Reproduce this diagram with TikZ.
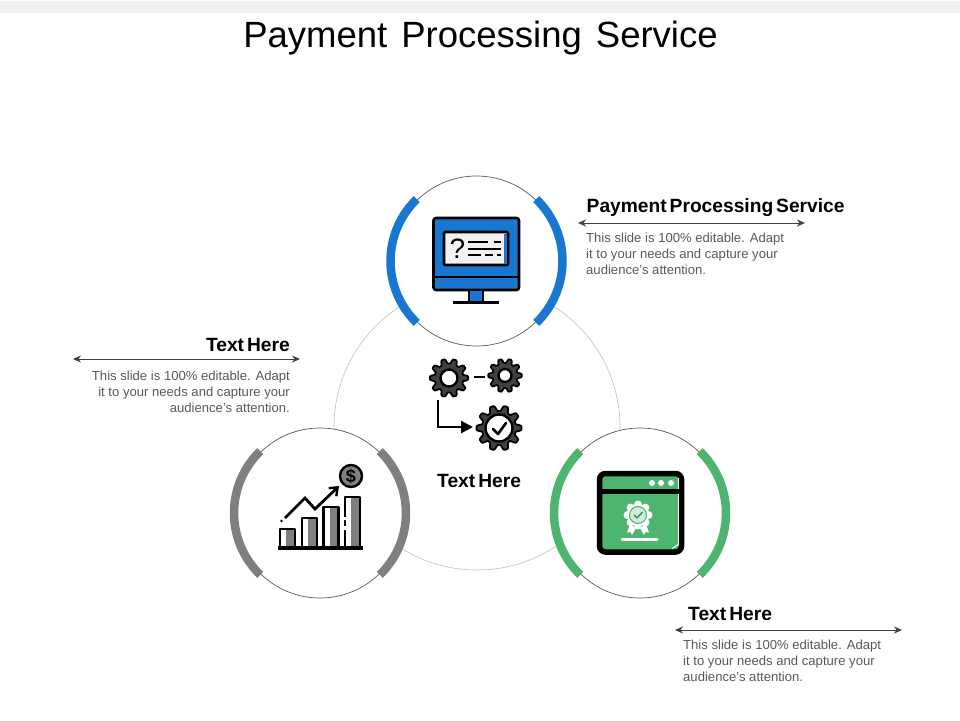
\documentclass[tikz,border=0pt]{standalone}
\usepackage{fontspec}
\setmainfont{Liberation Sans}
\usetikzlibrary{arrows.meta}
\definecolor{cblue}{HTML}{1877D0}
\definecolor{cgray}{HTML}{7F7F7F}
\definecolor{cgreen}{HTML}{4DB56F}
\definecolor{cband}{HTML}{F2F2F2}
\definecolor{cgear}{HTML}{404040}
\definecolor{ctext}{HTML}{595959}
\newcommand{\wordgap}[1]{\spaceskip=#1\relax}
\tikzset{
  ring/.style={circle,draw=black!65,line width=0.7pt,fill=white,minimum size=170pt,inner sep=0pt},
  hub/.style={circle,draw=black!25,line width=0.6pt,minimum size=286pt,inner sep=0pt},
  band/.style={line width=8.5pt,line cap=butt},
  span/.style={draw=black!75,line width=1pt,{Stealth[length=8pt,width=7pt]}-{Stealth[length=8pt,width=7pt]}},
  headleft/.style={anchor=west,inner sep=0pt,font=\fontsize{19.2pt}{22pt}\selectfont\bfseries},
  headright/.style={anchor=east,inner sep=0pt,font=\fontsize{19.2pt}{22pt}\selectfont\bfseries},
  bodyleft/.style={anchor=west,inner sep=0pt,align=left,text=ctext,font=\fontsize{13.1pt}{16pt}\selectfont},
  bodyright/.style={anchor=east,inner sep=0pt,align=right,text=ctext,font=\fontsize{13.1pt}{16pt}\selectfont},
  ink/.style={draw=black,line width=2.6pt,line cap=round,line join=round},
  thin ink/.style={draw=black,line width=2.2pt,line cap=butt},
}
\newcommand{\gearshape}[4]{%
  \filldraw[draw=black,fill=cgear,line width=1.8pt,line join=round]
    plot[variable=\t,samples=181,domain=0:360]
    ({#1+#3*(0.86+0.12*max(-1,min(1,1.6*cos(10*\t))))*cos(\t)},
     {#2+#3*(0.86+0.12*max(-1,min(1,1.6*cos(10*\t))))*sin(\t)}) -- cycle;
  \filldraw[draw=black,fill=white,line width=2.4pt] (#1,#2) circle[radius=#4];
}
\begin{document}
\begin{tikzpicture}[x=1pt,y=-1pt]
\useasboundingbox (0,0) rectangle (960,720);
\fill[cband] (0,1) rectangle (960,13);

\node[inner sep=0pt,font=\fontsize{36.5pt}{40pt}\selectfont] (title) at (480.5,38) {\wordgap{14pt}Payment Processing Service};

% circles
\node[hub] (hubc) at (477,427) {};
\node[ring] (top) at (476.5,261) {};
\node[ring] (left) at (320,513) {};
\node[ring] (right) at (640,513) {};

% coloured arcs
\draw[band,cblue] ([shift={(134:86)}]top.center) arc[start angle=134,end angle=226,radius=86];
\draw[band,cblue] ([shift={(-46:86)}]top.center) arc[start angle=-46,end angle=46,radius=86];
\draw[band,cgray] ([shift={(134:86)}]left.center) arc[start angle=134,end angle=226,radius=86];
\draw[band,cgray] ([shift={(-46:86)}]left.center) arc[start angle=-46,end angle=46,radius=86];
\draw[band,cgreen] ([shift={(134:86)}]right.center) arc[start angle=134,end angle=226,radius=86];
\draw[band,cgreen] ([shift={(-46:86)}]right.center) arc[start angle=-46,end angle=46,radius=86];

% text blocks
\node[headleft] (h1) at (586.5,208) {\wordgap{3pt}Payment Processing Service};
\coordinate (a1) at (578,223); \coordinate (b1) at (805,223);
\draw[span] (a1) -- (b1);
\node[bodyleft] (t1) at (586,254) {This slide is 100\% editable. Adapt\\it to your needs and capture your\\audience's attention.};

\node[headright] (h2) at (290,344.5) {\wordgap{3pt}Text Here};
\coordinate (a2) at (73,359); \coordinate (b2) at (300,359);
\draw[span] (a2) -- (b2);
\node[bodyright] (t2) at (290,392) {This slide is 100\% editable. Adapt\\it to your needs and capture your\\audience's attention.};

\node[headleft] (h3) at (688,613.5) {\wordgap{3pt}Text Here};
\coordinate (a3) at (675,630); \coordinate (b3) at (902,630);
\draw[span] (a3) -- (b3);
\node[bodyleft] (t3) at (683,661) {This slide is 100\% editable. Adapt\\it to your needs and capture your\\audience's attention.};

\node[headleft] (h4) at (437,480.5) {\wordgap{3pt}Text Here};

% monitor icon
\filldraw[ink,fill=cblue,rounded corners=2.5pt] (433.5,218) rectangle (519,290);
\draw[ink] (433.5,277) -- (519,277);
\filldraw[ink,fill=cband,rounded corners=1pt] (444,232) rectangle (508,265);
\fill[cblue] (504,233.5) rectangle (506.7,263.7);
\filldraw[draw=black,line width=2pt,fill=cblue] (469,290) rectangle (483,302);
\draw[ink,line cap=butt] (453,302.5) -- (499,302.5);
\node[inner sep=0pt,font=\fontsize{28pt}{30pt}\selectfont] (qm) at (457.5,248.5) {?};
\draw[thin ink] (468,242) -- (488,242) (494,242) -- (501,242);
\draw[thin ink] (468,249) -- (501,249);
\draw[thin ink] (468,255) -- (481,255) (485,255) -- (493,255) (497,255) -- (501,255);

% gears icon
\gearshape{449}{378}{19.5}{8.5}
\gearshape{505}{375.5}{17}{6.5}
\gearshape{499}{428}{23}{13.5}
\draw[line width=2.6pt,line cap=round,line join=round] (493,429) -- (498,434) -- (506,423);
\draw[line width=2.8pt] (473.5,377) -- (485,377);
\coordinate (e1) at (438,400); \coordinate (e2) at (438,427); \coordinate (e3) at (473,427);
\draw[line width=2.8pt,-{Triangle[length=12pt,width=12pt]}] (e1) -- (e2) -- (e3);

% chart icon
\foreach \x/\t in {280/529,302/518,323.5/507,345/497}{
  \fill[cgray] (\x+6,\t) rectangle (\x+14,547);
  \draw[line width=2.8pt,line join=round] (\x,547) -- (\x,\t) -- (\x+15,\t) -- (\x+15,547);
}
\draw[line width=3.2pt] (277.5,548) -- (363,548);
\fill[white] (343,517) rectangle (347,520) (343,526) rectangle (347,530);
\fill (345,523) circle[radius=1.4];
\fill (281.5,521) circle[radius=1.4];
\filldraw[draw=black,line width=2.4pt,fill=cgray] (351,476) circle[radius=11];
\node[inner sep=0pt,font=\fontsize{18pt}{18pt}\selectfont\bfseries] (usd) at (351,476) {\$};
\coordinate (c1) at (285,518); \coordinate (c2) at (305,498); \coordinate (c3) at (315,509); \coordinate (c4) at (339,486);
\draw[line width=2.8pt,line join=miter,-{Straight Barb[length=7pt,width=11pt,line width=2.4pt]}] (c1) -- (c2) -- (c3) -- (c4);

% window icon
\filldraw[draw=black,fill=cgreen,line width=5.5pt,rounded corners=6pt] (599.5,473.5) rectangle (681.5,552);
\fill[white] (678,478) rectangle (678.8,500) (678,500) -- (678.8,500) -- (678.8,545) -- (672,549) -- (672,548) -- (678,544) -- cycle;
\draw[line width=5pt] (599,491) -- (682,491);
\foreach \x in {652,661,671}{\fill[white] (\x,483) circle[radius=3];}
\foreach \a in {0,45,...,315}{\fill[white] ([shift={(\a:10.5)}]638,515) circle[radius=4];}
\fill[white] (638,515) circle[radius=11];
\filldraw[draw=cgreen,line width=1pt,fill=white!75!cgreen] (638,515) circle[radius=8.5];
\draw[cgreen!70!black,line width=1.2pt,line join=round] (634,515) -- (637,518) -- (642.5,512);
\fill[white] (630,524) -- (636,528) -- (632,535) -- (630.5,532) -- (627,532.5) -- cycle;
\fill[white] (646,524) -- (640,528) -- (644,535) -- (645.5,532) -- (649,532.5) -- cycle;
\draw[white,line width=3pt,line cap=round] (622,539) -- (657,539);
\end{tikzpicture}
\end{document}
